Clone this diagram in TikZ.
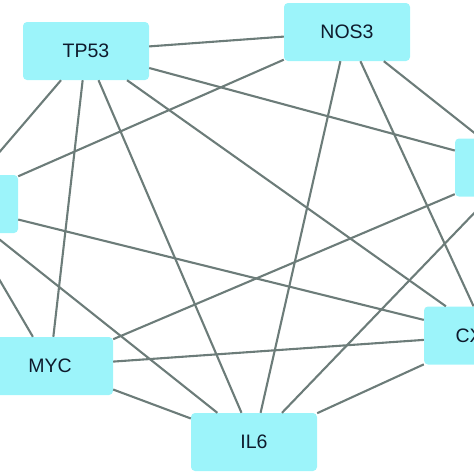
\documentclass[tikz,border=0pt]{standalone}
\usepackage{fontspec}
\setmainfont{Liberation Sans}
\usetikzlibrary{positioning}
\definecolor{genefill}{HTML}{9CF4FA}
\definecolor{genetext}{HTML}{0E1A2C}
\definecolor{edgegrey}{HTML}{6C7C79}
\tikzset{
  % Gen-boks: lyseblaa, afrundede hjoerner, ingen kant
  gene/.style={
    fill=genefill, draw=none, rounded corners=4pt,
    minimum width=126pt, minimum height=58pt, inner sep=0pt,
    text=genetext, font=\fontsize{19.5}{23}\selectfont,
  },
  link/.style={draw=edgegrey, line width=2.1pt},
}
\newcommand{\gene}[3]{%
  \node[gene] (#1) at (#2) {#3};}
\newcommand{\link}[2]{%
  \draw[link] (#1) -- (#2);}

\begin{document}
\begin{tikzpicture}[x=1pt,y=-1pt]
\useasboundingbox (0,0) rectangle (474,474);
\clip (0,0) rectangle (474,474);

% ----- gener -----
\gene{tp53}{86,51}{TP53}
\gene{nos3}{347,32}{NOS3}
\gene{right}{518,167.5}{}
\gene{left}{-45,204}{}
\gene{myc}{50,366}{MYC}
\gene{il6}{254,442}{IL6}
\gene{cxcl8}{487,335.5}{CXCL8}

% ----- forbindelser -----
\link{tp53}{nos3}
\link{tp53}{right}
\link{tp53}{left}
\link{tp53}{myc}
\link{tp53}{il6}
\link{tp53}{cxcl8}
\link{nos3}{left}
\link{nos3}{il6}
\link{nos3}{cxcl8}
\link{nos3}{right}
\link{right}{myc}
\link{right}{il6}
\link{left}{cxcl8}
\link{left}{myc}
\link{left}{il6}
\link{myc}{cxcl8}
\link{myc}{il6}
\link{il6}{cxcl8}

\end{tikzpicture}
\end{document}
